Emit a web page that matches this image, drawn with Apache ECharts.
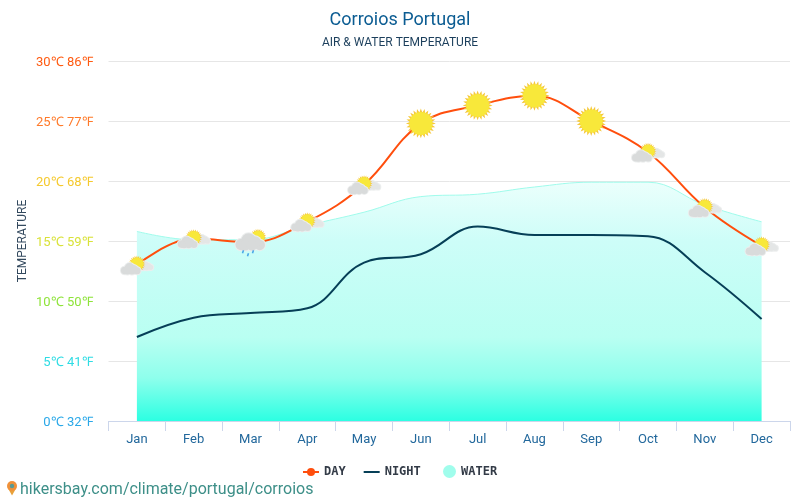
<!DOCTYPE html>
<html lang="en">
<head>
    <meta charset="UTF-8">
    <title>Corroios Portugal</title>
    <script src="https://cdn.jsdelivr.net/npm/echarts@6/dist/echarts.min.js"></script>
    <style>
        html,body{margin:0;padding:0;background:#fff;}
        #chart{width:800px;height:500px;}
    </style>
</head>
<body>
<div id="chart"></div>
<script>
    var months=['Jan','Feb','Mar','Apr','May','Jun','Jul','Aug','Sep','Oct','Nov','Dec'];
    var dayTemp=[13,15.2,14.9,16.6,19.7,24.8,26.3,27.1,25,22.4,17.8,14.6];
    var nightTemp=[7,8.6,9,9.4,13.2,13.9,16.2,15.5,15.5,15.4,12.4,8.5];
    var waterTemp=[15.8,15.1,15.1,16.3,17.4,18.7,18.9,19.5,19.9,19.9,18,16.6];
    var weather=['partly','partly','rain','partly','partly','sun','sun','sun','sun','partly','partly','partly'];
    var tickLabels={0:'0℃ 32℉',5:'5℃ 41℉',10:'10℃ 50℉',15:'15℃ 59℉',20:'20℃ 68℉',25:'25℃ 77℉',30:'30℃ 86℉'};
    var tickColors={0:'#2aa8e8',5:'#2fdce4',10:'#8fe33a',15:'#d9e23a',20:'#f5c92e',25:'#ff7a2a',30:'#ff5a10'};

    function sunPoints(cx,cy,r1,r2,n){
        var pts=[];
        for(var i=0;i<n*2;i++){
            var a=Math.PI*i/n;
            var r=i%2?r1:r2;
            pts.push([cx+Math.cos(a)*r,cy+Math.sin(a)*r]);
        }
        return pts;
    }
    function sunShapes(cx,cy,r){
        return [
            {type:'polygon',shape:{points:sunPoints(cx,cy,r*0.95,r*1.3,24)},style:{fill:'#f5c83c'}},
            {type:'circle',shape:{cx:cx,cy:cy,r:r},style:{fill:'#f8e83a'}}
        ];
    }
    function cloudShapes(cx,cy,s,fill){
        var list=[[-0.62,0.15,0.38],[0.62,0.18,0.35],[-0.12,-0.1,0.5],[0.28,0.02,0.42],[-0.35,0.2,0.36],[0.1,0.2,0.36]];
        var halo=list.map(function (c) {
            return {type:'circle',shape:{cx:cx+c[0]*s,cy:cy+c[1]*s,r:c[2]*s+1},style:{fill:'#eceeee'}};
        });
        var core=list.map(function (c) {
            return {type:'circle',shape:{cx:cx+c[0]*s,cy:cy+c[1]*s,r:c[2]*s},style:{fill:fill}};
        });
        return halo.concat(core);
    }
    function renderWeather(params,api) {
        var p=api.coord([api.value(0),api.value(1)]);
        var kind=weather[params.dataIndex];
        var x=p[0],y=p[1];
        var shapes;
        if(kind==='sun'){
            shapes=sunShapes(x,y,11.5);
        }else if(kind==='rain'){
            shapes=sunShapes(x+7.5,y-5,6.5)
                .concat(cloudShapes(x,y,15,'#d8dada'))
                .concat([
                    {type:'line',shape:{x1:x-7,y1:y+8,x2:x-8,y2:y+11},style:{stroke:'#4aa8e8',lineWidth:1.6}},
                    {type:'line',shape:{x1:x-2,y1:y+11,x2:x-3,y2:y+14},style:{stroke:'#4aa8e8',lineWidth:1.6}},
                    {type:'line',shape:{x1:x+3,y1:y+8,x2:x+2,y2:y+11},style:{stroke:'#4aa8e8',lineWidth:1.6}}
                ]);
        }else{
            shapes=cloudShapes(x+9,y+1,7.5,'#e4e6e6')
                .concat(sunShapes(x,y-1,6.5))
                .concat(cloudShapes(x-6,y+4,10,'#d9dbdb'));
        }
        return {type:'group',children:shapes};
    }

    var chart=echarts.init(document.getElementById('chart'));
    chart.setOption({
        animation:false,
        title:{
            text:'Corroios Portugal',
            subtext:'AIR & WATER TEMPERATURE',
            left:'center',
            top:6,
            itemGap:8,
            textStyle:{fontFamily:'Roboto',fontSize:18,fontWeight:'normal',color:'#0b5c92'},
            subtextStyle:{fontFamily:'Roboto',fontSize:12,color:'#1c3f5c'}
        },
        legend:[
            {
                top:461,
                left:297,
                itemGap:17,
                itemWidth:16,
                itemHeight:10,
                textStyle:{fontFamily:'DejaVu Sans Mono',fontSize:12,fontWeight:'bold',color:'#333b47'},
                data:[
                    {name:'DAY'},
                    {name:'NIGHT',itemStyle:{opacity:0}}
                ]
            },
            {
                top:460,
                left:438,
                itemWidth:13,
                itemHeight:13,
                textStyle:{fontFamily:'DejaVu Sans Mono',fontSize:12,fontWeight:'bold',color:'#333b47'},
                data:[{name:'WATER',icon:'circle'}]
            }
        ],
        grid:{left:108.5,right:10,top:61,bottom:79},
        xAxis:{
            type:'category',
            data:months,
            boundaryGap:true,
            axisLine:{lineStyle:{color:'#ccd6eb'}},
            axisTick:{show:true,length:10,lineStyle:{color:'#ccd6eb'}},
            axisLabel:{fontFamily:'Roboto',fontSize:13,color:'#22689c',margin:12}
        },
        yAxis:{
            type:'value',
            min:0,
            max:30,
            interval:5,
            name:'TEMPERATURE',
            nameLocation:'middle',
            nameGap:80,
            nameMoveOverlap:false,
            nameTextStyle:{fontFamily:'Roboto',fontSize:12,color:'#33495e'},
            axisLine:{show:false},
            axisTick:{show:false},
            splitLine:{lineStyle:{color:'#e6e6e6'}},
            axisLabel:{
                fontFamily:'Roboto',
                fontSize:13,
                margin:16,
                verticalAlign:'top',
                lineHeight:4,
                formatter:function (v) { return tickLabels[v]; },
                color:function (v) { return tickColors[v]; }
            }
        },
        series:[
            {
                name:'WATER',
                type:'line',
                data:waterTemp,
                smooth:0.4,
                symbol:'none',
                itemStyle:{color:'#a0fdec'},
                lineStyle:{color:'#9ffbeb',width:1},
                areaStyle:{
                    opacity:1,
                    color:new echarts.graphic.LinearGradient(0,0,0,1,[
                        {offset:0,color:'#ebfffc'},
                        {offset:0.25,color:'#cdfdf8'},
                        {offset:0.65,color:'#b9fff2'},
                        {offset:0.82,color:'#8effec'},
                        {offset:1,color:'#2cffe2'}
                    ])
                },
                z:1
            },
            {
                name:'NIGHT',
                type:'line',
                data:nightTemp,
                smooth:0.4,
                symbol:'none',
                itemStyle:{color:'#063f57'},
                lineStyle:{color:'#063f57',width:2},
                z:2
            },
            {
                name:'DAY',
                type:'line',
                data:dayTemp,
                smooth:0.4,
                symbol:'circle',
                symbolSize:8,
                itemStyle:{color:'#ff4e0d'},
                lineStyle:{color:'#ff4e0d',width:2},
                z:3
            },
            {
                name:'weather',
                type:'custom',
                data:dayTemp.map(function (v,i) { return [i,v]; }),
                renderItem:renderWeather,
                silent:true,
                z:4
            }
        ],
        graphic:[
            {
                type:'text',
                left:20,
                top:482,
                style:{text:'hikersbay.com/climate/portugal/corroios',font:'16px Roboto',fill:'#3d8f88'}
            },
            {
                type:'group',
                left:7,
                top:481,
                children:[
                    {type:'polygon',shape:{points:[[1,7],[5.5,15],[10,7]]},style:{fill:'#e8a13a'}},
                    {type:'circle',shape:{cx:5.5,cy:5.5,r:5},style:{fill:'#f0913a'}},
                    {type:'circle',shape:{cx:5.5,cy:5.5,r:2.2},style:{fill:'#5a9a94'}}
                ]
            }
        ]
    });
</script>
</body>
</html>
